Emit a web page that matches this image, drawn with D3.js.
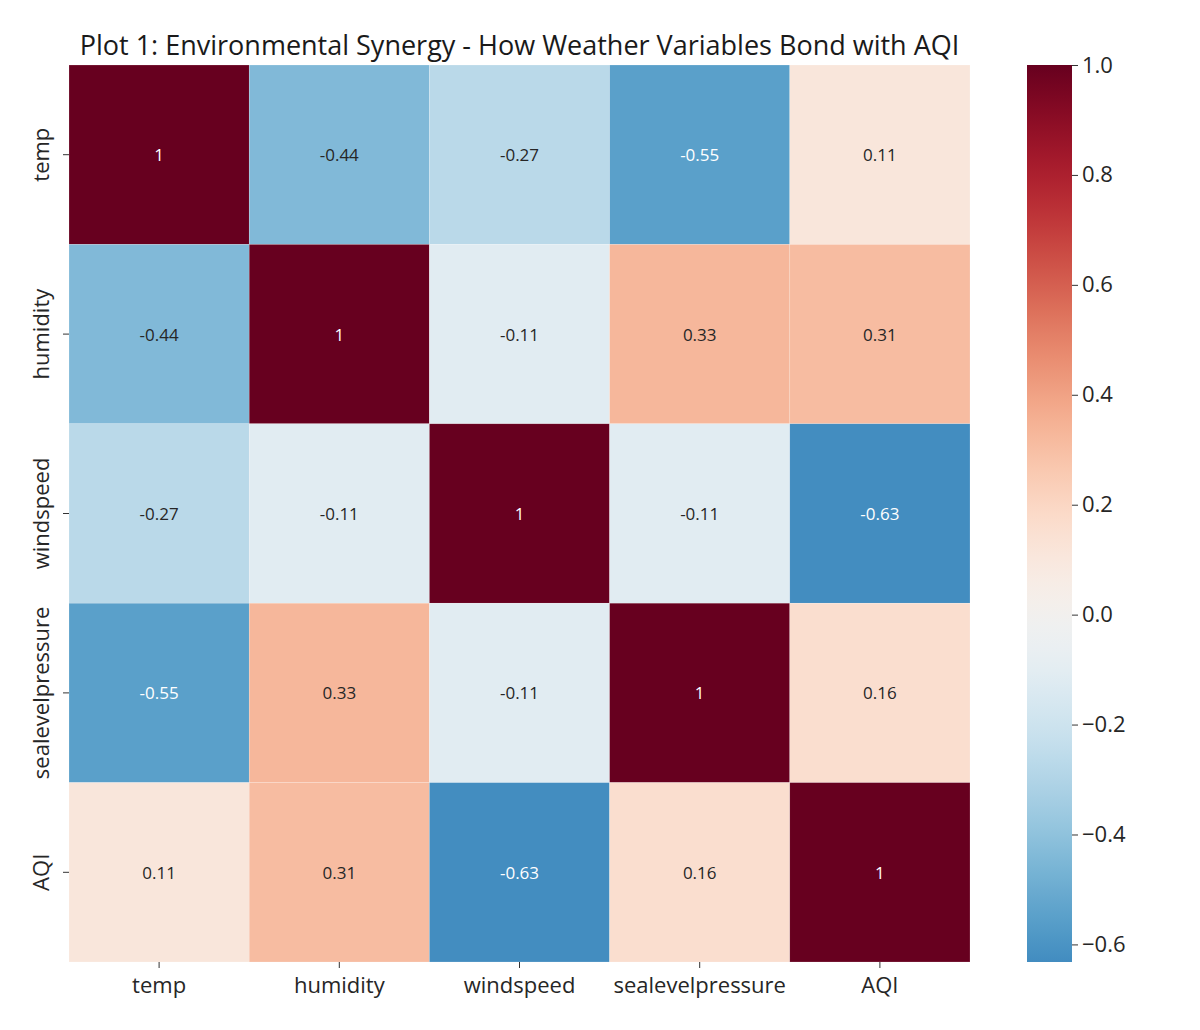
<!DOCTYPE html>
<html>
<head>
<meta charset="utf-8">
<script src="https://cdnjs.cloudflare.com/ajax/libs/d3/7.8.5/d3.min.js"></script>
<style>
	body { margin: 0; background: #ffffff; }
	text { font-family: "Open Sans", "Noto Sans", sans-serif; }
</style>
</head>
<body>
<svg id="chart" width="1200" height="1030"></svg>
<script>
/* DATA */
var variables = ["temp", "humidity", "windspeed", "sealevelpressure", "AQI"];
var row_temp = [1, -0.44, -0.27, -0.55, 0.11];
var row_humidity = [-0.44, 1, -0.11, 0.33, 0.31];
var row_windspeed = [-0.27, -0.11, 1, -0.11, -0.63];
var row_pressure = [-0.55, 0.33, -0.11, 1, 0.16];
var row_aqi = [0.11, 0.31, -0.63, 0.16, 1];
var colour_Ticks = [1.0, 0.8, 0.6, 0.4, 0.2, 0.0, -0.2, -0.4, -0.6];
var colour_Min = -0.632, colour_Max = 1;

var matrix = [row_temp, row_humidity, row_windspeed, row_pressure, row_aqi];

var svg = d3.select("#chart");
var plot_Left = 69, plot_Right = 970, plot_Top = 65, plot_Bottom = 962;

var x = d3.scaleBand().domain(variables).range([plot_Left, plot_Right]);
var y = d3.scaleBand().domain(variables).range([plot_Top, plot_Bottom]);

/* RdBu_r centred on zero, as seaborn does it */
function colour(v) { return d3.interpolateRdBu((1 - v) / 2); }

function luminance(c) {
	var rgb = d3.rgb(c);
	var chan = [rgb.r, rgb.g, rgb.b].map(function(k){
		k = k / 255;
		return k <= 0.03928 ? k / 12.92 : Math.pow((k + 0.055) / 1.055, 2.4);
	});
	return 0.2126 * chan[0] + 0.7152 * chan[1] + 0.0722 * chan[2];
}

var cells = [];
matrix.forEach(function(row, i){
	row.forEach(function(v, j){
		cells.push({ row: variables[i], col: variables[j], value: v });
	});
});

svg.append("g").selectAll("rect").data(cells).enter().append("rect")
	.attr("x", function(d){ return x(d.col); })
	.attr("y", function(d){ return y(d.row); })
	.attr("width", x.bandwidth())
	.attr("height", y.bandwidth())
	.attr("fill", function(d){ return colour(d.value); })
	.attr("stroke", "#ffffff")
	.attr("stroke-opacity", 0.35)
	.attr("stroke-width", 0.5);

/* cell annotations keep the plain hyphen */
svg.append("g").selectAll("text").data(cells).enter().append("text")
	.attr("x", function(d){ return x(d.col) + x.bandwidth() / 2; })
	.attr("y", function(d){ return y(d.row) + y.bandwidth() / 2; })
	.attr("text-anchor", "middle")
	.attr("dominant-baseline", "central")
	.attr("font-size", 17)
	.attr("fill", function(d){ return luminance(colour(d.value)) > 0.408 ? "#262626" : "#ffffff"; })
	.text(function(d){ return String(d.value); });

/* x axis */
var x_Axis = svg.append("g").attr("transform", "translate(0," + plot_Bottom + ")")
	.call(d3.axisBottom(x).tickSize(6).tickPadding(6));
x_Axis.select(".domain").remove();
x_Axis.selectAll("text").attr("font-size", 22).attr("fill", "#262626").attr("dy", "0.85em");
x_Axis.selectAll("line").attr("stroke", "#333");

/* y axis, labels turned upright along the left edge */
var y_Axis = svg.append("g").attr("transform", "translate(" + plot_Left + ",0)")
	.call(d3.axisLeft(y).tickSize(6));
y_Axis.select(".domain").remove();
y_Axis.selectAll("line").attr("stroke", "#333");
y_Axis.selectAll(".tick text")
	.attr("x", null).attr("dy", null)
	.attr("transform", "translate(-20,0) rotate(-90)")
	.attr("text-anchor", "middle")
	.attr("font-size", 22)
	.attr("fill", "#262626");

/* title */
svg.append("text")
	.attr("x", (plot_Left + plot_Right) / 2)
	.attr("y", 55)
	.attr("text-anchor", "middle")
	.attr("font-size", 27)
	.attr("fill", "#1a1a1a")
	.text("Plot 1: Environmental Synergy - How Weather Variables Bond with AQI");

/* colour bar */
var bar_Left = 1027, bar_Width = 45;
var c = d3.scaleLinear().domain([colour_Min, colour_Max]).range([plot_Bottom, plot_Top]);

var grad = svg.append("defs").append("linearGradient")
	.attr("id", "bar_Gradient").attr("x1", 0).attr("y1", 1).attr("x2", 0).attr("y2", 0);
d3.range(0, 41).forEach(function(k){
	var v = colour_Min + (colour_Max - colour_Min) * k / 40;
	grad.append("stop").attr("offset", (k / 40)).attr("stop-color", colour(v));
});

svg.append("rect")
	.attr("x", bar_Left).attr("y", plot_Top)
	.attr("width", bar_Width).attr("height", plot_Bottom - plot_Top)
	.attr("fill", "url(#bar_Gradient)");

var c_Axis = svg.append("g").attr("transform", "translate(" + (bar_Left + bar_Width) + ",0)")
	.call(d3.axisRight(c).tickValues(colour_Ticks).tickSize(6).tickPadding(4)
		.tickFormat(function(d){ return d3.format(".1f")(d).replace("-", "\u2212"); }));
c_Axis.select(".domain").remove();
c_Axis.selectAll("line").attr("stroke", "#333");
c_Axis.selectAll("text").attr("font-size", 22).attr("fill", "#262626");
</script>
</body>
</html>
